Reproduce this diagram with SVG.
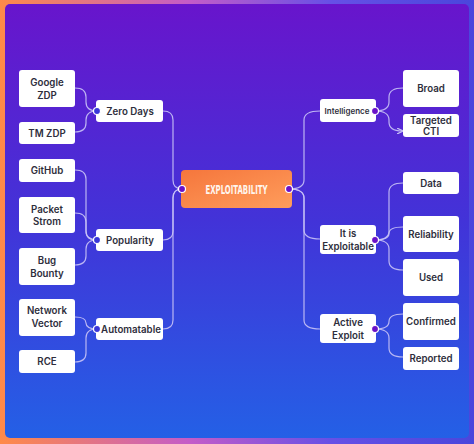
<svg xmlns="http://www.w3.org/2000/svg" width="474" height="444" viewBox="0 0 474 444">
<defs>
<linearGradient id="frame" x1="0" y1="0" x2="1" y2="0">
<stop offset="0" stop-color="#ff8a48"/>
<stop offset="0.4" stop-color="#c45cc8"/>
<stop offset="0.7" stop-color="#6650e6"/>
<stop offset="1" stop-color="#4a46dc"/>
</linearGradient>
<linearGradient id="panel" x1="0" y1="0" x2="0" y2="1">
<stop offset="0" stop-color="#6815cc"/>
<stop offset="0.5" stop-color="#4233d8"/>
<stop offset="1" stop-color="#2460e6"/>
</linearGradient>
<linearGradient id="core" x1="0" y1="0" x2="1" y2="1">
<stop offset="0" stop-color="#f5763c"/>
<stop offset="1" stop-color="#ff9d5c"/>
</linearGradient>
<marker id="arr" viewBox="0 0 6 6" refX="5" refY="3" markerWidth="5" markerHeight="5" orient="auto">
<path d="M0,0 L6,3 L0,6" fill="none" stroke="#c9c3f6" stroke-width="1.2"/>
</marker>
<style>
.n{fill:#ffffff;}
.t{font-family:Inter,"Liberation Sans",sans-serif;font-weight:600;font-size:9.7px;fill:#2e2e3c;text-anchor:middle;}
.s{font-size:8px;}
.c{fill:none;stroke:#c9c3f6;stroke-width:1.2;stroke-opacity:0.9;}
.dl{fill:#3a36d8;stroke:#ffffff;stroke-width:1.2;}
.dr{fill:#6a12c8;stroke:#ffffff;stroke-width:1.2;}
</style>
</defs>
<rect x="0" y="0" width="474" height="444" fill="url(#frame)"/>
<rect x="5" y="4" width="464" height="434" rx="5" fill="url(#panel)"/>

<g id="connectors">
<path class="c" d="M182,189 Q173,189 173,180 L173,120 Q173,111 163,111"/>
<path class="c" d="M182,189 Q173,189 173,198 L173,231 Q173,240 163,240"/>
<path class="c" d="M182,189 Q173,189 173,198 L173,320 Q173,329 163,329"/>
<path class="c" d="M289,189 Q304,189 304,180 L304,120 Q304,111 320,111"/>
<path class="c" d="M289,189 Q304,189 304,198 L304,230 Q304,239 320,239"/>
<path class="c" d="M289,189 Q304,189 304,198 L304,320 Q304,329 320,329"/>
<path class="c" d="M75,88 Q86,88 86,97 L86,102 Q86,111 97,111"/>
<path class="c" d="M75,132 Q86,132 86,123 L86,120 Q86,111 97,111"/>
<path class="c" d="M75,170 Q86,170 86,179 L86,231 Q86,240 97,240"/>
<path class="c" d="M75,213 Q86,213 86,222 L86,231 Q86,240 97,240"/>
<path class="c" d="M75,265 Q86,265 86,256 L86,249 Q86,240 97,240"/>
<path class="c" d="M75,317 Q86,317 86,323 Q86,329 97,329"/>
<path class="c" d="M75,362 Q86,362 86,353 L86,338 Q86,329 97,329"/>
<path class="c" d="M375,111 Q389,111 389,102 L389,97 Q389,88 403,88"/>
<path class="c" d="M375,111 Q389,111 389,120 L389,122 Q389,131 402,131" marker-end="url(#arr)"/>
<path class="c" d="M375,240 Q389,240 389,231 L389,192 Q389,183 403,183"/>
<path class="c" d="M375,240 Q389,240 389,233.5 Q389,227 403,227"/>
<path class="c" d="M375,240 Q389,240 389,249 L389,261 Q389,270 403,270"/>
<path class="c" d="M375,329 Q389,329 389,321.5 Q389,314 403,314"/>
<path class="c" d="M375,329 Q389,329 389,338 L389,348 Q389,357 403,357"/>
</g>

<g id="exploitability">
<rect x="181" y="170" width="111" height="38" rx="4" fill="url(#core)"/>
<text x="236.5" y="193.5" font-family="'DejaVu Sans Condensed','Liberation Sans Narrow',sans-serif" font-weight="bold" font-size="11.5" fill="#fff6ee" text-anchor="middle" textLength="62" lengthAdjust="spacingAndGlyphs">EXPLOITABILITY</text>
<circle class="dr" cx="182" cy="189" r="3.5"/>
<circle class="dr" cx="289" cy="189" r="3.5"/>
</g>

<g id="zero-days">
<rect class="n" x="96" y="100" width="67" height="22" rx="3"/>
<text class="t" x="130" y="115">Zero Days</text>
<circle class="dl" cx="97" cy="111" r="3.5"/>
</g>
<g id="google-zdp">
<rect class="n" x="19" y="70" width="56" height="37" rx="3"/>
<text class="t" x="47" y="86">Google</text>
<text class="t" x="47" y="98.5">ZDP</text>
</g>
<g id="tm-zdp">
<rect class="n" x="19" y="122" width="56" height="22" rx="3"/>
<text class="t" x="47" y="137">TM ZDP</text>
</g>

<g id="popularity">
<rect class="n" x="96" y="229" width="67" height="22" rx="3"/>
<text class="t" x="130" y="244">Popularity</text>
<circle class="dl" cx="97" cy="240" r="3.5"/>
</g>
<g id="github">
<rect class="n" x="19" y="159" width="56" height="23" rx="3"/>
<text class="t" x="47" y="174">GitHub</text>
</g>
<g id="packet-strom">
<rect class="n" x="19" y="197" width="56" height="36" rx="3"/>
<text class="t" x="47" y="212.5">Packet</text>
<text class="t" x="47" y="225">Strom</text>
</g>
<g id="bug-bounty">
<rect class="n" x="19" y="248" width="56" height="37" rx="3"/>
<text class="t" x="47" y="264">Bug</text>
<text class="t" x="47" y="276.5">Bounty</text>
</g>

<g id="automatable">
<rect class="n" x="96" y="318" width="67" height="22" rx="3"/>
<text class="t" x="131" y="333">Automatable</text>
<circle class="dl" cx="97" cy="329" r="3.5"/>
</g>
<g id="network-vector">
<rect class="n" x="19" y="299" width="56" height="37" rx="3"/>
<text class="t" x="47" y="314">Network</text>
<text class="t" x="47" y="326.5">Vector</text>
</g>
<g id="rce">
<rect class="n" x="19" y="350" width="56" height="23" rx="3"/>
<text class="t" x="47" y="365">RCE</text>
</g>

<g id="intelligence">
<rect class="n" x="320" y="99" width="56" height="23" rx="3"/>
<text class="t s" x="347" y="113.5">Intelligence</text>
<circle class="dr" cx="375" cy="111" r="3.5"/>
</g>
<g id="broad">
<rect class="n" x="403" y="70" width="56" height="37" rx="3"/>
<text class="t" x="431" y="92">Broad</text>
</g>
<g id="targeted-cti">
<rect class="n" x="403" y="114" width="56" height="23" rx="3"/>
<text class="t" x="431" y="123.5">Targeted</text>
<text class="t" x="431" y="135">CTI</text>
</g>

<g id="it-is-exploitable">
<rect class="n" x="320" y="225" width="56" height="29" rx="3"/>
<text class="t" x="348" y="237">It is</text>
<text class="t" x="348" y="249.5">Exploitable</text>
<circle class="dr" cx="375" cy="240" r="3.5"/>
</g>
<g id="data">
<rect class="n" x="403" y="172" width="56" height="22" rx="3"/>
<text class="t" x="431" y="187">Data</text>
</g>
<g id="reliability">
<rect class="n" x="403" y="216" width="56" height="36" rx="3"/>
<text class="t" x="431" y="237.5">Reliability</text>
</g>
<g id="used">
<rect class="n" x="403" y="259" width="56" height="37" rx="3"/>
<text class="t" x="431" y="281">Used</text>
</g>

<g id="active-exploit">
<rect class="n" x="320" y="314" width="56" height="29" rx="3"/>
<text class="t" x="348" y="326">Active</text>
<text class="t" x="348" y="338.5">Exploit</text>
<circle class="dr" cx="375" cy="329" r="3.5"/>
</g>
<g id="confirmed">
<rect class="n" x="403" y="303" width="56" height="37" rx="3"/>
<text class="t" x="431" y="325">Confirmed</text>
</g>
<g id="reported">
<rect class="n" x="403" y="347" width="56" height="23" rx="3"/>
<text class="t" x="431" y="362">Reported</text>
</g>
</svg>
